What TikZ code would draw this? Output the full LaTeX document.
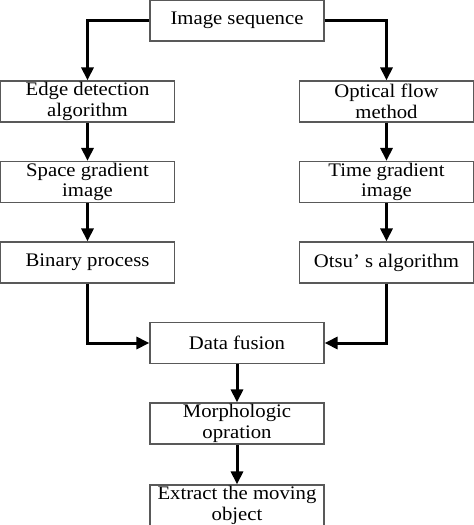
\documentclass[tikz,border=0pt]{standalone}
\usepackage{fontspec}
\setmainfont[FakeStretch=1.08]{Liberation Serif}
\usetikzlibrary{arrows.meta}
\begin{document}
\begin{tikzpicture}[x=1pt,y=-1pt,
  box/.style={draw=black!65,line width=1.2pt,fill=white,minimum width=174pt,minimum height=41pt,inner sep=0pt,align=center,font=\fontsize{19.2}{20.5}\selectfont},
  flow/.style={line width=3pt,-{Triangle[length=13pt,width=12pt]}}]
\useasboundingbox (0,0) rectangle (474,525);
\node[box] (seq) at (237,20.5) {Image sequence};
\node[box] (edge) at (87.5,101.5) {Edge detection\\algorithm};
\node[box] (opt) at (386.5,101.5) {Optical flow\\method};
\node[box] (space) at (87.5,182) {Space gradient\\image};
\node[box] (time) at (386.5,182) {Time gradient\\image};
\node[box] (bin) at (87.5,262.5) {Binary process};
\node[box] (otsu) at (386.5,262.5) {Otsu’ s algorithm};
\node[box] (fus) at (237,343) {Data fusion};
\node[box] (mor) at (237,423.5) {Morphologic\\opration};
\node[box] (ext) at (237,505.5) {Extract the moving\\object};
\draw[flow] (seq.west) -| (edge.north);
\draw[flow] (seq.east) -| (opt.north);
\draw[flow] (edge) -- (space);
\draw[flow] (opt) -- (time);
\draw[flow] (space) -- (bin);
\draw[flow] (time) -- (otsu);
\draw[flow] (bin.south) |- (fus.west);
\draw[flow] (otsu.south) |- (fus.east);
\draw[flow] (fus) -- (mor);
\draw[flow] (mor) -- (ext);
\end{tikzpicture}
\end{document}
